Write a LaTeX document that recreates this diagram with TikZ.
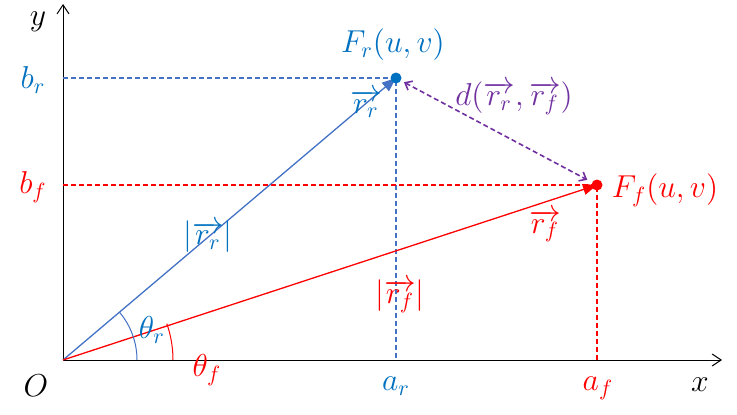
\documentclass[tikz,border=0pt]{standalone}
\usepackage{graphicx}
\usetikzlibrary{arrows.meta,calc}
\definecolor{cBlue}{RGB}{68,114,196}
\definecolor{cLBlue}{RGB}{0,112,192}
\definecolor{cRed}{RGB}{255,0,0}
\definecolor{cPur}{RGB}{112,48,160}
\newcommand{\mylab}[1]{\scalebox{2.2}{\Large #1}}
\begin{document}
\begin{tikzpicture}[x=1pt,y=-1pt,
  lab/.style={inner sep=1pt},
  axis/.style={line width=1pt,-{Straight Barb[length=9pt,width=12pt]}},
  guide/.style={line width=1.1pt,dash pattern=on 5pt off 3pt}]
\useasboundingbox (0,0) rectangle (737,415);
\coordinate (O) at (63,360);
\coordinate (X) at (722,360);
\coordinate (Y) at (63,4);
\coordinate (R) at (396,78);
\coordinate (F) at (597,185);
\coordinate (BR) at (63,78);
\coordinate (BF) at (63,185);
\coordinate (AR) at (396,360);
\coordinate (AF) at (597,360);
\draw[axis] (O) -- (X);
\draw[axis] (O) -- (Y);
\draw[guide,draw=cBlue] (BR) -- (R) -- (AR);
\draw[guide,draw=cRed] (BF) -- (F) -- (AF);
\draw[draw=cBlue,fill=cBlue,line width=1.3pt,-{Triangle[length=14pt,width=11pt]}] (O) -- (R);
\draw[draw=cRed,fill=cRed,line width=1.3pt,-{Triangle[length=14pt,width=11pt]}] (O) -- (F);
\fill[cLBlue] (R) circle (5.5pt);
\fill[cRed] (F) circle (5.5pt);
\draw[draw=cPur,line width=1.6pt,dash pattern=on 5pt off 3pt,{Straight Barb[length=6pt,width=10pt]}-{Straight Barb[length=6pt,width=10pt]}] ($(R)!9pt!(F)$) -- ($(F)!11pt!(R)$);
\draw[draw=cBlue,line width=1pt] (O) ++(0:74) arc[start angle=0,end angle=-40.3,radius=74];
\draw[draw=cRed,line width=1pt] (O) ++(0:110) arc[start angle=0,end angle=-19.3,radius=110];
\node[lab] (ny) at (38,22) {\mylab{$y$}};
\node[lab] (nx) at (700,385) {\mylab{$x$}};
\node[lab] (nO) at (36,386) {\mylab{$O$}};
\node[lab,text=cLBlue] (nbr) at (33,80) {\mylab{$b_r$}};
\node[lab,text=cRed] (nbf) at (33,187) {\mylab{$b_f$}};
\node[lab,text=cLBlue] (nar) at (396,386) {\mylab{$a_r$}};
\node[lab,text=cRed] (naf) at (598,388) {\mylab{$a_f$}};
\node[lab,text=cLBlue] (nFr) at (393,45) {\mylab{$F_r(u,v)$}};
\node[lab,text=cRed] (nFf) at (665,190) {\mylab{$F_f(u,v)$}};
\node[lab,text=cPur] (nd) at (514,98) {\mylab{$d(\overrightarrow{r_r},\overrightarrow{r_f})$}};
\node[lab,text=cLBlue] (vr) at (366,104) {\mylab{$\overrightarrow{r_r}$}};
\node[lab,text=cLBlue] (mr) at (208,237) {\mylab{$|\overrightarrow{r_r}|$}};
\node[lab,text=cRed] (vf) at (545,226) {\mylab{$\overrightarrow{r_f}$}};
\node[lab,text=cRed] (mf) at (400,296) {\mylab{$|\overrightarrow{r_f}|$}};
\node[lab,text=cLBlue] (tr) at (152,330) {\mylab{$\theta_r$}};
\node[lab,text=cRed] (tf) at (207,370) {\mylab{$\theta_f$}};
\end{tikzpicture}
\end{document}
